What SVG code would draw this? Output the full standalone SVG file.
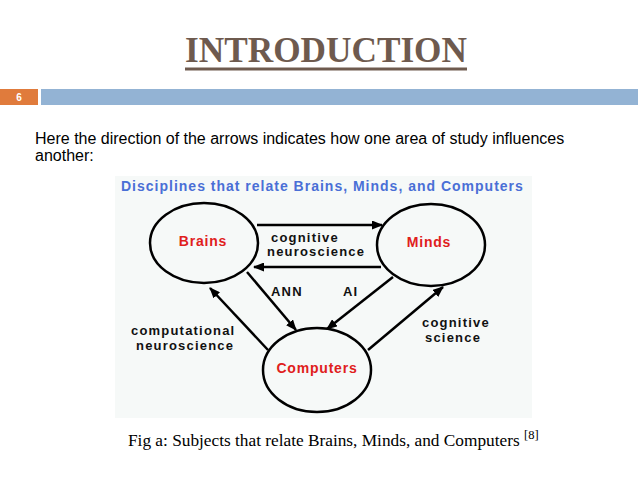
<svg xmlns="http://www.w3.org/2000/svg" width="638" height="478" viewBox="0 0 638 478">
<defs>
<marker id="ah" markerWidth="11" markerHeight="9" refX="10" refY="4.5" orient="auto" markerUnits="userSpaceOnUse" viewBox="0 0 11 9">
<path d="M0,0 L11,4.5 L0,9 z" fill="#000"/>
</marker>
</defs>
<style>
.node{fill:none;stroke:#000;stroke-width:2.5}
.nl{font-family:"Liberation Sans",Arial,sans-serif;font-weight:bold;font-size:14px;letter-spacing:0.8px;fill:#e0201c;text-anchor:middle}
.el{font-family:"Liberation Sans",Arial,sans-serif;font-weight:bold;font-size:13px;letter-spacing:1.2px;fill:#111}
.conn line{stroke:#000;stroke-width:2.5;marker-end:url(#ah)}
</style>
<rect width="638" height="478" fill="#fff"/>
<text x="326" y="62" font-family="Liberation Serif,'Times New Roman',serif" font-weight="bold" font-size="35" fill="#6e5a4e" text-anchor="middle" textLength="282" lengthAdjust="spacingAndGlyphs">INTRODUCTION</text>
<rect x="185" y="67.5" width="282" height="3" fill="#6e5a4e"/>
<rect x="0" y="89" width="38" height="16" fill="#e07b3c"/>
<text x="19" y="101" font-family="Liberation Sans,Arial,sans-serif" font-weight="bold" font-size="10" fill="#fff" text-anchor="middle">6</text>
<rect x="41" y="89" width="597" height="16" fill="#93b3d4"/>
<text font-family="Liberation Sans,Arial,sans-serif" font-size="16" fill="#000"><tspan x="35" y="144">Here the direction of the arrows indicates how one area of study influences</tspan><tspan x="35" y="161">another:</tspan></text>
<rect x="115" y="176" width="417" height="242" fill="#f6f9f8"/>
<text x="121" y="191" font-family="Liberation Sans,Arial,sans-serif" font-weight="bold" font-size="14" letter-spacing="1" fill="#4a6fd6">Disciplines that relate Brains, Minds, and Computers</text>
<g id="brains"><ellipse class="node" cx="204" cy="243" rx="54" ry="40"/><text class="nl" x="203" y="246">Brains</text></g>
<g id="minds"><ellipse class="node" cx="431" cy="245" rx="54" ry="41"/><text class="nl" x="429" y="247">Minds</text></g>
<g id="computers"><ellipse class="node" cx="317" cy="370" rx="54" ry="42"/><text class="nl" x="317" y="373">Computers</text></g>
<g class="conn">
<line x1="257" y1="225" x2="382" y2="225"/>
<line x1="381" y1="267" x2="254" y2="267"/>
<line x1="247" y1="272" x2="296" y2="330"/>
<line x1="393" y1="277" x2="327" y2="329"/>
<line x1="268" y1="350" x2="210" y2="288"/>
<line x1="368" y1="350" x2="443" y2="287"/>
</g>
<g id="labels">
<text class="el" x="271" y="242">cognitive</text>
<text class="el" x="267" y="256">neuroscience</text>
<text class="el" x="271" y="296">ANN</text>
<text class="el" x="343" y="296">AI</text>
<text class="el" x="131" y="335">computational</text>
<text class="el" x="136" y="350">neuroscience</text>
<text class="el" x="422" y="327">cognitive</text>
<text class="el" x="425" y="342">science</text>
</g>
<text x="128" y="446" font-family="Liberation Serif,'Times New Roman',serif" font-size="17.3" fill="#000">Fig a: Subjects that relate Brains, Minds, and Computers <tspan font-size="12.5" dy="-7">[8]</tspan></text>
</svg>
